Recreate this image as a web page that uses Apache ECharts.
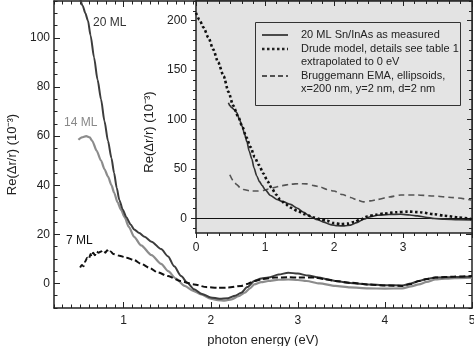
<!DOCTYPE html>
<html><head><meta charset="utf-8">
<script src="https://cdn.jsdelivr.net/npm/echarts@6/dist/echarts.min.js"></script>
<style>html,body{margin:0;padding:0;background:#fff}#c{width:474px;height:346px}</style>
</head><body><div id="c"></div>
<script>
// ---------- data (photon energy eV, Re(dr/r) 1e-3) ----------
const ml20 = [[0.50,116],[0.53,113],[0.56,110],[0.59,107],[0.62,101],[0.66,92],[0.70,83],[0.74,75],[0.78,66],[0.82,58],[0.86,51],[0.89,45],[0.92,39],[0.95,34],[0.99,30],[1.03,27],[1.08,24],[1.12,22],[1.18,20.5],[1.24,19],[1.32,17],[1.43,14],[1.51,11],[1.58,7],[1.66,3],[1.73,0.3],[1.81,-2.4],[1.90,-4.3],[2.00,-5.7],[2.10,-6.2],[2.20,-6],[2.28,-5],[2.35,-3.8],[2.42,-1.5],[2.50,1],[2.58,2],[2.66,2.4],[2.78,3.6],[2.89,4.4],[3.00,4],[3.12,3.2],[3.24,2.4],[3.35,1.6],[3.43,1],[3.60,0.2],[3.81,-0.4],[4.00,-0.7],[4.20,-0.8],[4.30,0],[4.39,1],[4.48,1.8],[4.58,2.4],[4.80,2.6],[5.00,2.8]];
const ml14 = [[0.48,58.5],[0.52,59.5],[0.57,60],[0.61,59.5],[0.64,58],[0.69,54],[0.74,50],[0.78,46.5],[0.82,43.5],[0.86,40],[0.89,37],[0.93,33],[0.97,30],[1.01,27],[1.06,23],[1.12,19],[1.20,15.5],[1.32,11.5],[1.43,8],[1.51,5],[1.60,2],[1.70,-1],[1.80,-3],[1.89,-4.5],[2.00,-6.2],[2.08,-6.8],[2.16,-7],[2.24,-6.5],[2.32,-5.2],[2.39,-3.8],[2.45,-2],[2.50,-0.4],[2.58,0.5],[2.66,1],[2.78,1.5],[2.89,1.6],[3.00,1.4],[3.10,1],[3.25,0],[3.43,-1],[3.60,-1.6],[3.81,-2],[4.00,-2.1],[4.20,-2],[4.30,-1.2],[4.39,-0.4],[4.48,0.6],[4.58,1.6],[4.80,2.2],[5.00,2.4]];
const ml7 = [[0.50,6.5],[0.52,7.5],[0.54,7],[0.56,9],[0.58,10.5],[0.60,10],[0.62,12],[0.63,11],[0.65,12.5],[0.67,11.5],[0.69,13],[0.71,12.5],[0.74,13],[0.77,13.5],[0.79,12.5],[0.81,13.5],[0.83,12.5],[0.85,13],[0.88,12],[0.95,11.3],[1.03,10.5],[1.12,9.5],[1.20,8],[1.30,6.3],[1.39,4.5],[1.51,3],[1.65,1],[1.81,-0.4],[1.95,-1.5],[2.08,-1.8],[2.20,-1.7],[2.35,-1],[2.42,-0.2],[2.50,1],[2.60,1.8],[2.74,2.4],[2.90,2.5],[3.00,2.4],[3.20,2.4],[3.30,1.8],[3.43,1],[3.60,0.3],[3.81,-0.4],[4.00,-0.8],[4.20,-1],[4.30,-0.2],[4.39,1],[4.48,1.8],[4.58,2.4],[4.80,2.8],[5.00,3]];
// inset
const measured = [[0.47,117],[0.49,114],[0.52,112],[0.55,110],[0.59,107],[0.63,100],[0.67,93],[0.70,86],[0.74,77],[0.77,68],[0.81,60],[0.84,51],[0.88,43],[0.92,37],[0.96,33],[1.00,29],[1.08,23],[1.17,19],[1.27,16.5],[1.37,14],[1.47,10],[1.56,6],[1.66,1.5],[1.76,-1.5],[1.85,-4],[1.95,-6.5],[2.05,-7.7],[2.15,-7.8],[2.24,-7],[2.33,-4.5],[2.43,-1],[2.53,1.5],[2.63,3],[2.80,3.8],[2.97,4],[3.10,3.3],[3.21,2.3],[3.33,1],[3.45,-0.3],[3.60,-1],[3.80,-1.5],[3.99,-1.7]];
const drude = [[0.00,208],[0.05,201],[0.11,193],[0.18,183],[0.25,171],[0.32,158],[0.40,144],[0.47,128],[0.54,114],[0.61,103],[0.67,93],[0.73,82],[0.79,72],[0.85,62],[0.91,54],[0.98,45],[1.04,37],[1.10,30],[1.16,24],[1.22,19],[1.30,14],[1.38,10.5],[1.47,7.4],[1.58,4],[1.71,0.7],[1.80,-1],[1.90,-2.7],[2.00,-5],[2.10,-6],[2.20,-5.5],[2.29,-4],[2.38,-1.5],[2.48,1.7],[2.60,3.5],[2.72,4.7],[2.90,6],[3.07,6.7],[3.25,6],[3.45,4],[3.60,2.5],[3.80,0.8],[4.00,-1]];
const ema = [[0.49,44],[0.54,38],[0.59,34],[0.64,31],[0.69,29],[0.79,27.6],[0.88,27.5],[0.98,28],[1.05,29.5],[1.13,31],[1.25,33],[1.37,34.5],[1.50,35],[1.60,34.8],[1.71,33],[1.80,31.5],[1.90,29],[2.00,27.5],[2.12,24],[2.24,21],[2.35,18],[2.43,16.5],[2.53,17.5],[2.63,19],[2.80,21.5],[2.97,23.5],[3.20,23.5],[3.45,22.5],[3.70,21],[3.99,18.5]];

// ticks
const mainXMajor = [1,2,3,4,5];
const mainYMajor = [0,20,40,60,80,100];
const insetYMajor = [0,50,100,150,200];
const insetYMinor = [-10,0,10,20,30,40,50,60,70,80,90,100,110,120,130,140,150,160,170,180,190,200,210,220];

const legendLabels = ['20 ML Sn/InAs as measured','Drude model, details see table 1','extrapolated to 0 eV','Bruggemann EMA, ellipsoids,','x=200 nm, y=2 nm, d=2 nm'];
const curveLabels = ['20 ML','14 ML','7 ML'];

const FONT = 'Liberation Sans, Arial, Helvetica, sans-serif';
const INK = '#222';
const YNAME = 'Re(\u0394r/r) (10\u207B\u00B3)';

function ax(o) {
  const base = {
    type: 'value', splitLine: {show: false},
    axisLine: {show: false, onZero: false, lineStyle: {color: INK, width: 1.5}},
    axisTick: {show: true, inside: true, length: 3.5, lineStyle: {color: INK, width: 1}},
    axisLabel: {show: false, color: INK, fontSize: 12, fontFamily: FONT},
    nameTextStyle: {color: INK, fontSize: 13, fontFamily: FONT}
  };
  const r = Object.assign({}, base, o);
  r.axisLine = Object.assign({}, base.axisLine, o.axisLine || {});
  r.axisTick = Object.assign({}, base.axisTick, o.axisTick || {});
  r.axisLabel = Object.assign({}, base.axisLabel, o.axisLabel || {});
  r.nameTextStyle = Object.assign({}, base.nameTextStyle, o.nameTextStyle || {});
  return r;
}

const xAxis = [
  ax({gridIndex: 0, position: 'bottom', min: 0.2, max: 5, axisLine: {show: true},
      axisTick: {length: 6, customValues: mainXMajor},
      axisLabel: {show: true, customValues: mainXMajor, margin: 7},
      name: 'photon energy (eV)', nameLocation: 'middle', nameGap: 26}),
  ax({gridIndex: 0, position: 'bottom', min: 0.2, max: 5, interval: 0.1}),
  ax({gridIndex: 0, position: 'top', min: 0.2, max: 5, axisLine: {show: true},
      axisTick: {length: 6, customValues: mainXMajor}}),
  ax({gridIndex: 0, position: 'top', min: 0.2, max: 5, interval: 0.1}),
  ax({gridIndex: 1, position: 'bottom', min: 0, max: 4, interval: 1, z: 6, axisLine: {show: true},
      axisTick: {inside: false, length: 5},
      minorTick: {show: true, splitNumber: 6, length: 3, lineStyle: {color: INK, width: 1}},
      axisLabel: {show: true, margin: 9, showMaxLabel: false}}),
  ax({gridIndex: 1, position: 'top', min: 0, max: 4, interval: 1, z: 6, axisLine: {show: true},
      axisTick: {length: 5},
      minorTick: {show: true, splitNumber: 6, length: 3, lineStyle: {color: INK, width: 1}}})
];

const yAxis = [
  ax({gridIndex: 0, position: 'left', min: -10, max: 115, axisLine: {show: true},
      axisTick: {length: 6, customValues: mainYMajor},
      axisLabel: {show: true, customValues: mainYMajor, margin: 4},
      name: YNAME, nameLocation: 'middle', nameGap: 34}),
  ax({gridIndex: 0, position: 'left', min: -10, max: 115, interval: 5}),
  ax({gridIndex: 0, position: 'right', min: -10, max: 115, axisLine: {show: true},
      axisTick: {length: 6, customValues: mainYMajor}}),
  ax({gridIndex: 0, position: 'right', min: -10, max: 115, interval: 5}),
  ax({gridIndex: 1, position: 'left', min: -15, max: 220, z: 6, axisLine: {show: true},
      axisTick: {inside: false, length: 5, customValues: insetYMajor},
      axisLabel: {show: true, customValues: insetYMajor, margin: 9},
      name: YNAME, nameLocation: 'middle', nameGap: 24,
      nameTextStyle: {padding: [0, 30, 0, 0]}}),
  ax({gridIndex: 1, position: 'left', min: -15, max: 220, z: 6,
      axisTick: {inside: false, length: 3, customValues: insetYMinor}}),
  ax({gridIndex: 1, position: 'right', min: -15, max: 220, z: 6, axisLine: {show: true},
      axisTick: {length: 5, customValues: insetYMajor}}),
  ax({gridIndex: 1, position: 'right', min: -15, max: 220, z: 6,
      axisTick: {length: 3, customValues: insetYMinor}})
];

function line(data, xi, yi, color, width, type, z) {
  return {type: 'line', data: data, xAxisIndex: xi, yAxisIndex: yi, showSymbol: false, symbol: 'none',
    smooth: 0.25, smoothMonotone: 'x', z: z, silent: true,
    lineStyle: {color: color, width: width, type: type, cap: 'butt'}};
}

const measuredSeries = line(measured, 4, 4, '#333', 1.6, 'solid', 8);
measuredSeries.markLine = {silent: true, symbol: 'none', label: {show: false}, z: 7,
  lineStyle: {color: '#111', width: 1, type: 'solid'}, data: [{yAxis: 0}]};

const series = [
  line(ml14, 0, 0, '#8c8c8c', 2.2, 'solid', 2),
  line(ml20, 0, 0, '#3c3c3c', 2, 'solid', 3),
  line(ml7, 0, 0, '#111', 2, [6, 3], 3),
  line(ema, 4, 4, '#555', 1.6, [6, 4], 7),
  measuredSeries,
  line(drude, 4, 4, '#111', 2.6, [2.5, 2.5], 9)
];

const tx = (t, x, y, fill, size) => ({type: 'text', x: x, y: y, z: 30, silent: true,
  style: {text: t, fill: fill, fontSize: size, fontFamily: FONT, align: 'left', verticalAlign: 'middle'}});
const seg = (y, dash) => ({type: 'line', z: 30, silent: true, shape: {x1: 262, y1: y, x2: 288, y2: y},
  style: {stroke: '#222', lineWidth: dash ? (dash[0] < 3 ? 2.5 : 1.6) : 1.6, lineDash: dash || null}});

const graphic = [
  {type: 'rect', z: 29, silent: true, shape: {x: 255.5, y: 22.5, width: 205, height: 83},
   style: {fill: '#e4e4e4', stroke: '#333', lineWidth: 1}},
  seg(35, null), seg(49, [2.5, 2.5]), seg(76, [5, 3]),
  tx(legendLabels[0], 301, 35, INK, 11),
  tx(legendLabels[1], 301, 49, INK, 11),
  tx(legendLabels[2], 301, 62, INK, 11),
  tx(legendLabels[3], 301, 76, INK, 11),
  tx(legendLabels[4], 301, 89, INK, 11),
  tx(curveLabels[0], 93, 23, '#333', 12),
  tx(curveLabels[1], 64, 123, '#888', 12),
  tx(curveLabels[2], 66, 241, '#111', 12)
];

const chart = echarts.init(document.getElementById('c'), null, {renderer: 'canvas'});
chart.setOption({
  animation: false,
  backgroundColor: '#fff',
  grid: [
    {left: 54, right: 2, top: 1, bottom: 38, z: 0, outerBoundsMode: 'none'},
    {left: 196, right: 2, top: 1, bottom: 113, z: 5, show: true, backgroundColor: '#e3e3e3', borderWidth: 0, outerBoundsMode: 'none'}
  ],
  xAxis: xAxis,
  yAxis: yAxis,
  series: series,
  graphic: graphic
});
</script></body></html>
